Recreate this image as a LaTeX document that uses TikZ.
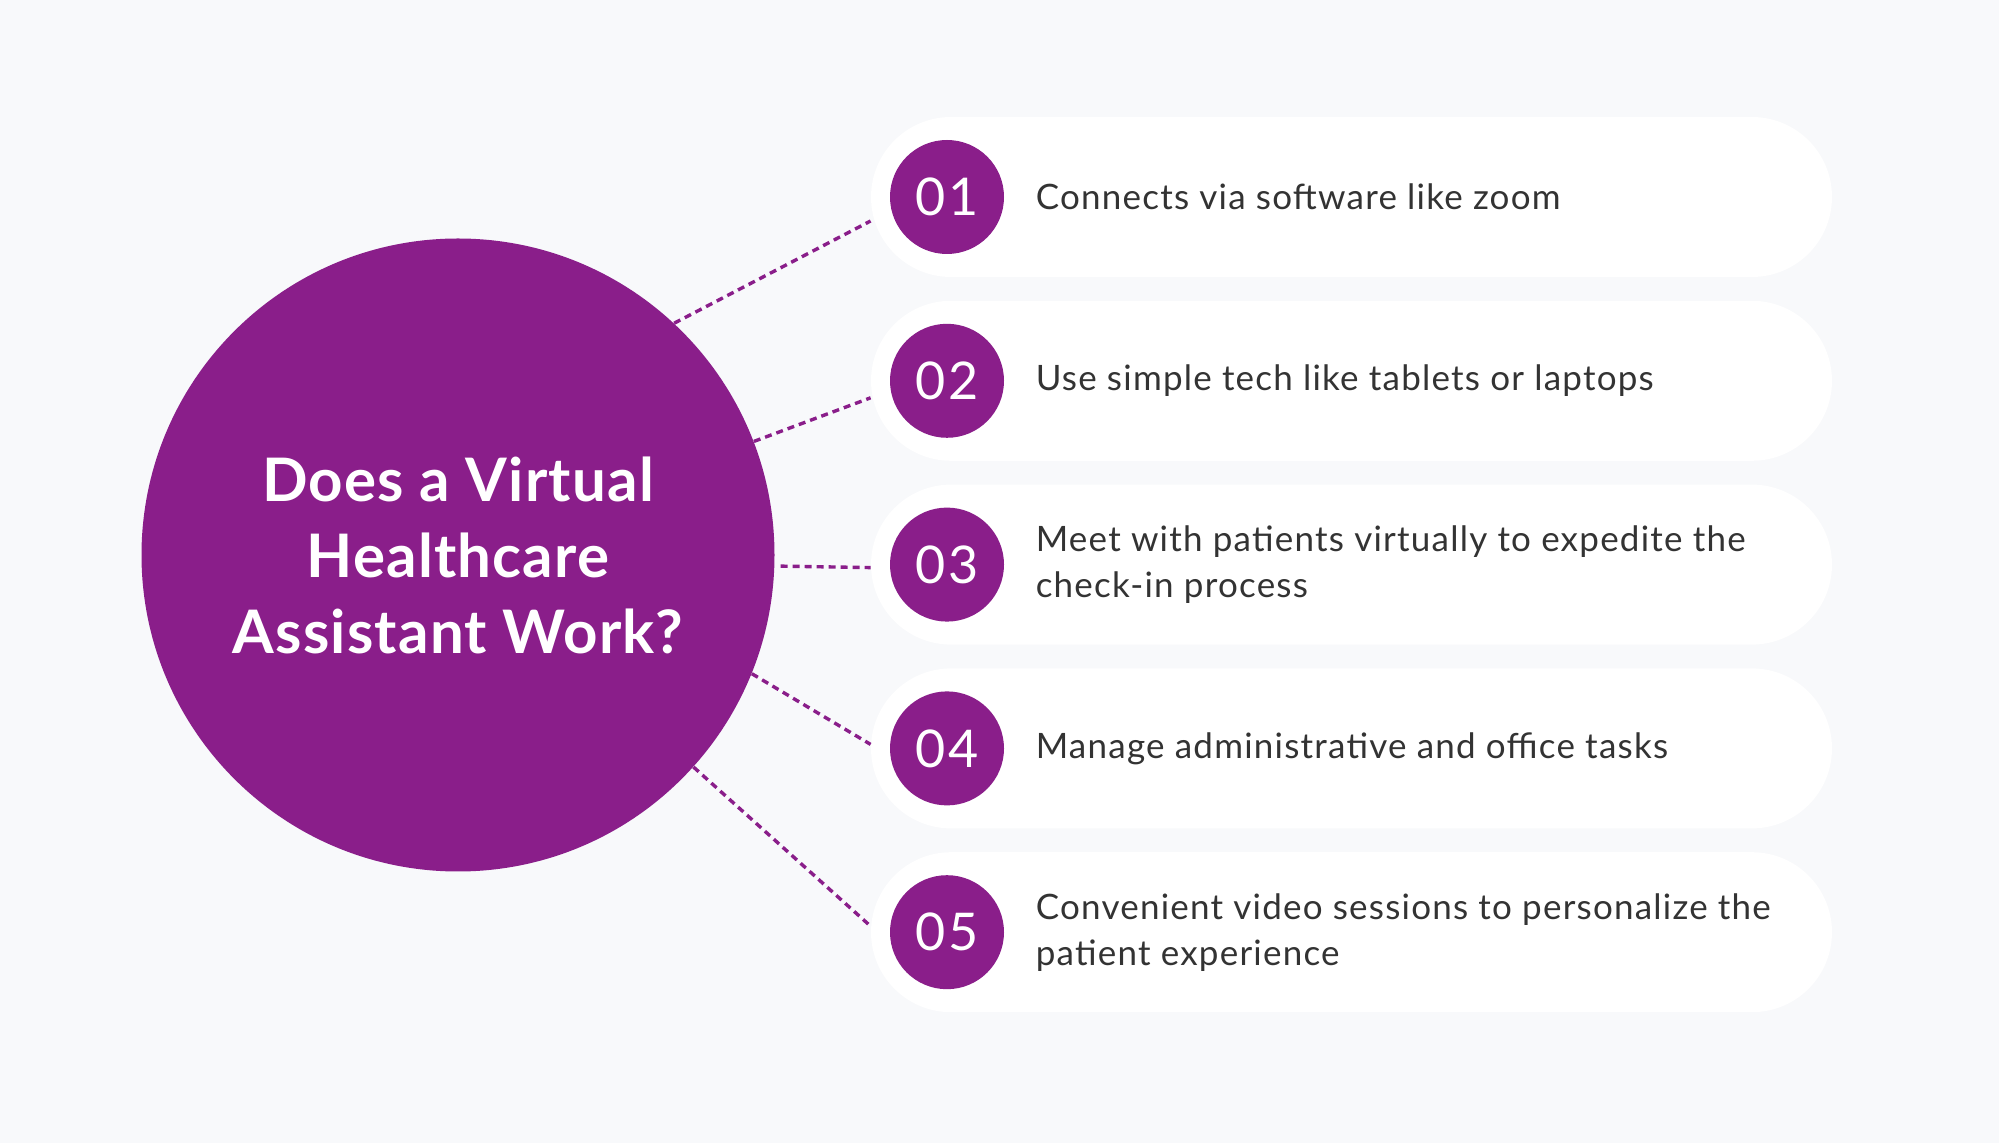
\documentclass[tikz,border=0pt]{standalone}
\usepackage{fontspec}
\setmainfont{Lato}
\usetikzlibrary{positioning}
\definecolor{vpurple}{HTML}{8A1E8A}
\definecolor{vback}{HTML}{F8F9FB}
\definecolor{vtext}{HTML}{333333}

\begin{document}
\begin{tikzpicture}[x=0.5pt,y=-0.5pt,
	pill/.style={rectangle, fill=white, rounded corners=40pt, minimum width=480.5pt, minimum height=80pt, inner sep=0pt},
	num/.style={circle, fill=vpurple, text=white, minimum size=57pt, inner sep=0pt, font=\fontsize{26}{30}\selectfont\addfontfeatures{LetterSpace=4}},
	item/.style={inner sep=0pt, text=vtext, align=left, font=\fontsize{17.5}{23}\selectfont\addfontfeatures{LetterSpace=3.5}},
	link/.style={draw=vpurple, line width=1.7pt, dash pattern=on 3.5pt off 2.5pt}]
		\fill[vback] (0,0) rectangle (1999,1143);
		\node (big) [circle, fill=vpurple, minimum size=316.5pt, inner sep=0pt, text=white, align=center, font=\bfseries\fontsize{30}{38}\selectfont\addfontfeatures{LetterSpace=2}] at (458,555) {Does a Virtual\\Healthcare\\Assistant Work?};
		\node (p1) [pill] at (1351.5,197) {};
		\node (p2) [pill, below=11.5pt of p1] {};
		\node (p3) [pill, below=11.5pt of p2] {};
		\node (p4) [pill, below=11.5pt of p3] {};
		\node (p5) [pill, below=11.5pt of p4] {};
		\node (n1) [num, right=9.5pt of p1.west] {01};
		\node (n2) [num, right=9.5pt of p2.west] {02};
		\node (n3) [num, right=9.5pt of p3.west] {03};
		\node (n4) [num, right=9.5pt of p4.west] {04};
		\node (n5) [num, right=9.5pt of p5.west] {05};
		\node (t1) [item, right=15.5pt of n1] {Connects via software like zoom};
		\node (t2) [item, right=15.5pt of n2] {Use simple tech like tablets or laptops};
		\node (t3) [item, right=15.5pt of n3] {Meet with patients virtually to expedite the\\check-in process};
		\node (t4) [item, right=15.5pt of n4] {Manage administrative and office tasks};
		\node (t5) [item, right=15.5pt of n5] {Convenient video sessions to personalize the\\patient experience};
		\draw[link] (big.47) -- ([yshift=-12pt]p1.west);
		\draw[link] (big.21) -- ([yshift=-8.5pt]p2.west);
		\draw[link, shorten <=3pt] (big.-2) -- ([yshift=-1.5pt]p3.west);
		\draw[link] (big.-22) -- ([yshift=2pt]p4.west);
		\draw[link] (big.-42) -- ([yshift=3pt]p5.west);
\end{tikzpicture}
\end{document}
